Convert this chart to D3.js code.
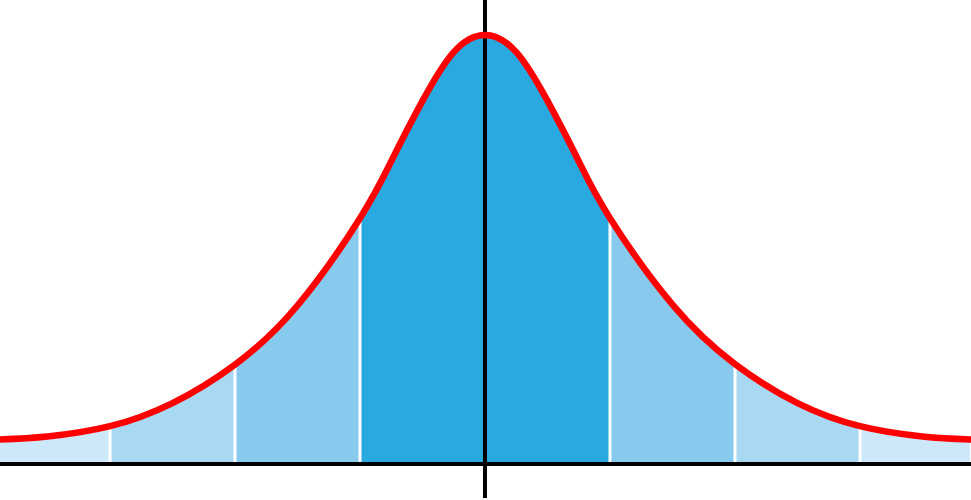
<html>
    <head>
        <title>Normal curve</title>
        <style>
            body { margin: 0; background: #fff; }
            .curve { fill: none; stroke: #f00; stroke-width: 6.5px; stroke-linecap: round; stroke-linejoin: round; }
            .axis-line { stroke: #000; stroke-width: 4px; }
            .sep { stroke: #fff; stroke-width: 3px; }
        </style>
    </head>
    <body>
        <svg></svg>

        <script src="https://d3js.org/d3.v7.min.js"></script>
        <script>
            // curve samples (x in sigma units, height relative to the peak)
            const sigma = [-3.88, -3.5, -3, -2.5, -2, -1.5, -1, -0.75, -0.5, -0.25, 0,
                           0.25, 0.5, 0.75, 1, 1.5, 2, 2.5, 3, 3.5, 3.88];
            const density = [0.055, 0.062, 0.086, 0.14, 0.23, 0.368, 0.572, 0.705, 0.846, 0.96, 1,
                             0.96, 0.846, 0.705, 0.572, 0.37, 0.231, 0.14, 0.086, 0.062, 0.055];

            // band edges in sigma units and their colours
            const bandEdges = [-3.88, -3, -2, -1, 0, 1, 2, 3, 3.88];
            const bandColors = ["#cde8f8", "#a9d8f3", "#88caee", "#2aa9e0", "#2aa9e0", "#88caee", "#a9d8f3", "#cde8f8"];
            const separators = [-3, -2, -1, 1, 2, 3];

            const width = 971,
            height = 500;

            const svg = d3.select("svg")
                .attr("width", width)
                .attr("height", height);

            const x = d3.scaleLinear().domain([-3.88, 3.88]).range([0, 970]);
            const y = d3.scaleLinear().domain([0, 1]).range([463, 35]);

            const points = sigma.map(function(s, i) { return [s, density[i]]; });

            const area = d3.area()
                .x(function(d) { return x(d[0]); })
                .y0(y(0))
                .y1(function(d) { return y(d[1]); })
                .curve(d3.curveNatural);

            const line = d3.line()
                .x(function(d) { return x(d[0]); })
                .y(function(d) { return y(d[1]); })
                .curve(d3.curveNatural);

            // clip everything to the area under the curve
            svg.append("clipPath")
                .attr("id", "under")
                .append("path")
                .attr("d", area(points));

            const bands = svg.append("g").attr("clip-path", "url(#under)");

            bands.selectAll("rect")
                .data(d3.pairs(bandEdges))
                .join("rect")
                .attr("x", function(d) { return x(d[0]); })
                .attr("width", function(d) { return x(d[1]) - x(d[0]); })
                .attr("y", 0)
                .attr("height", y(0))
                .attr("fill", function(d, i) { return bandColors[i]; });

            bands.selectAll(".sep")
                .data(separators)
                .join("line")
                .attr("class", "sep")
                .attr("x1", function(d) { return x(d); })
                .attr("x2", function(d) { return x(d); })
                .attr("y1", 0)
                .attr("y2", y(0));

            // axes
            svg.append("line")
                .attr("class", "axis-line")
                .attr("x1", 0).attr("x2", width)
                .attr("y1", y(0) + 1).attr("y2", y(0) + 1);

            svg.append("line")
                .attr("class", "axis-line")
                .attr("x1", x(0)).attr("x2", x(0))
                .attr("y1", 0).attr("y2", 498);

            // red curve on top
            svg.append("path")
                .attr("class", "curve")
                .attr("d", line(points));
        </script>
    </body>
</html>
